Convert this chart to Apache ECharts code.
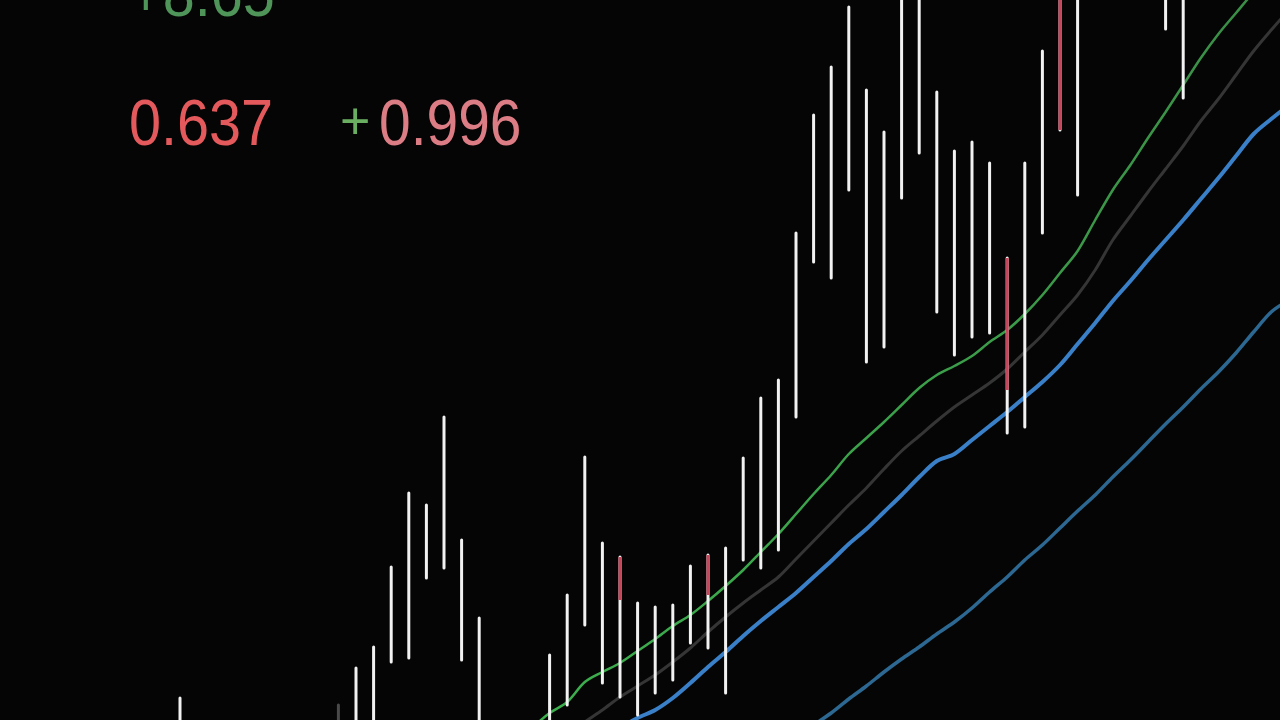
<!DOCTYPE html>
<html>
<head>
<meta charset="utf-8">
<script src="https://cdn.jsdelivr.net/npm/echarts@6/dist/echarts.min.js"></script>
<style>
html,body{margin:0;padding:0;background:#050505;}
#chart{width:1280px;height:720px;}
</style>
</head>
<body>
<div id="chart"></div>
<script>
// category slots (one per session); null = candle not visible
var categories = [];
for (var i = 0; i < 64; i++) { categories.push('S' + (i + 1)); }

var highs = [22,null,null,null,null,null,null,null,null,15,
  52,73,153,227,215,303,180,102,null,null,
  null,65,125,263,177,163,117,113,115,154,
  165,172,262,322,340,487,605,653,713,630,
  588,740,740,628,569,578,557,462,557,669,
  740,740,null,null,null,null,740,740,null,null,
  null,null,null,null];
var lows = [-20,null,null,null,null,null,null,null,null,-20,
  -20,-20,58,62,142,152,60,-20,null,null,
  null,-20,15,95,37,23,5,27,40,77,
  72,27,160,152,170,303,458,442,530,358,
  373,522,567,408,365,383,387,287,293,487,
  590,525,null,null,null,null,691,622,null,null,
  null,null,null,null];
// red (down) segments of some wicks
var redHighs = {25:163, 30:165, 47:462, 50:740};
var redLows  = {25:120, 30:125, 47:330, 50:590};
var faint = {9:true};

var maFast = [null,null,null,null,null,null,null,null,null,null,
  null,null,null,null,null,null,null,null,null,null,
  -8,7,18,38,48,57,69,81,94,105,
  119,134,150,168,186,206,226,245,266,282,
  298,315,332,345,354,364,378,390,406,425,
  447,469,500,530,555,582,608,635,662,686,
  707,728,748,770];
var maMid = [null,null,null,null,null,null,null,null,null,null,
  null,null,null,null,null,null,null,null,null,null,
  null,null,-15,-2,10,23,34,45,58,72,
  88,103,117,130,143,161,179,197,215,232,
  251,269,284,299,313,325,337,351,368,385,
  405,425,450,480,504,528,551,574,599,621,
  645,669,690,710];
var maSlow = [null,null,null,null,null,null,null,null,null,null,
  null,null,null,null,null,null,null,null,null,null,
  null,null,null,null,-20,-8,2,10,22,37,
  53,68,84,99,113,127,143,159,176,191,
  208,225,243,259,266,280,294,308,323,338,
  355,376,397,419,439,460,480,500,521,542,
  564,586,601,615];
var maLong = [null,null,null,null,null,null,null,null,null,null,
  null,null,null,null,null,null,null,null,null,null,
  null,null,null,null,null,null,null,null,null,null,
  null,null,null,null,null,null,-5,7,21,34,
  48,61,73,86,98,112,128,143,160,175,
  192,209,225,243,260,278,296,313,331,348,
  367,388,408,420];

var quoteTop = '+8.65';
var quoteLast = '0.637';
var quoteChangeSign = '+';
var quoteChange = '0.996';

var candleData = [];
for (var k = 0; k < categories.length; k++) {
  if (highs[k] != null) candleData.push([k, highs[k], lows[k]]);
}

var LG = echarts.graphic.LinearGradient;
var chart = echarts.init(document.getElementById('chart'));
chart.setOption({
  backgroundColor: '#050505',
  animation: false,
  grid: {left: 180, top: 0, width: 1108.8, height: 720, outerBoundsMode: 'none', containLabel: false},
  xAxis: {type: 'category', data: categories, boundaryGap: false, show: false},
  yAxis: {type: 'value', min: 0, max: 720, show: false, splitLine: {show: false}},
  series: [
    {type: 'line', data: maLong, showSymbol: false, smooth: 0.3, lineStyle: {color: '#2c6892', width: 3.5}, z: 2},
    {type: 'line', data: maSlow, showSymbol: false, smooth: 0.3, lineStyle: {color: '#3a80c8', width: 4}, z: 2},
    {type: 'line', data: maMid, showSymbol: false, smooth: 0.3, lineStyle: {color: '#353535', width: 3}, z: 2},
    {type: 'line', data: maFast, showSymbol: false, smooth: 0.3, lineStyle: {width: 2.5,
      color: new LG(0, 1, 1, 0, [{offset: 0, color: '#3cb04e'}, {offset: 1, color: '#3a8c46'}])}, z: 2},
    {
      type: 'custom', z: 5,
      data: candleData,
      encode: {x: 0, y: [1, 2]},
      renderItem: function (params, api) {
        var k = api.value(0);
        var pHi = api.coord([k, api.value(1)]);
        var pLo = api.coord([k, api.value(2)]);
        var children = [{
          type: 'line',
          shape: {x1: pHi[0], y1: pHi[1], x2: pLo[0], y2: pLo[1]},
          style: {stroke: faint[k] ? '#4a4a4a' : '#f2f2f2', lineWidth: 3, lineCap: 'round'}
        }];
        if (redHighs[k] != null) {
          var rHi = api.coord([k, redHighs[k]]);
          var rLo = api.coord([k, redLows[k]]);
          children.push({
            type: 'line',
            shape: {x1: rHi[0], y1: rHi[1], x2: rLo[0], y2: rLo[1]},
            style: {stroke: '#c8465c', lineWidth: 3}
          });
        }
        return {type: 'group', children: children};
      }
    }
  ],
  graphic: [
    {type: 'text', x: 129, y: -34, scaleX: 0.9, style: {text: quoteTop, font: '64px "Liberation Sans"', fill: '#4f9458'}},
    {type: 'text', x: 129, y: 95, scaleX: 0.9, style: {text: quoteLast, font: '64px "Liberation Sans"', fill: '#e45a5c'}},
    {type: 'text', x: 340, y: 99, style: {text: quoteChangeSign, font: '52px "Liberation Sans"', fill: '#6aae62'}},
    {type: 'text', x: 379, y: 95, scaleX: 0.89, style: {text: quoteChange, font: '64px "Liberation Sans"', fill: '#dc7c84'}}
  ]
});
</script>
</body>
</html>
